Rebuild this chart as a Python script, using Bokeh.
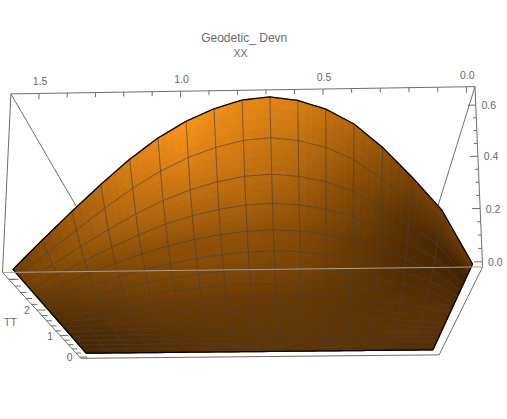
import numpy as np
from bokeh.plotting import figure
from bokeh.embed import file_html
from bokeh.resources import INLINE
from bokeh.core.properties import value

# ---- data ----
x_mesh = [0.0, 0.098, 0.196, 0.295, 0.393, 0.491, 0.589, 0.687, 0.785, 0.884, 0.982, 1.08, 1.178, 1.276, 1.374, 1.473, 1.571]
t_mesh = [0.0, 0.196, 0.393, 0.589, 0.785, 0.982, 1.178, 1.374, 1.571, 1.767, 1.963, 2.16, 2.356, 2.553, 2.749, 2.945, 3.142]
edge_height = [0.0, 0.206, 0.333, 0.45, 0.544, 0.605, 0.641, 0.657, 0.646, 0.613, 0.565, 0.50, 0.418, 0.322, 0.219, 0.111, 0.0]
height_ratio = [0.0, 0.0005, 0.002, 0.005, 0.014, 0.027, 0.048, 0.082, 0.122, 0.17, 0.23, 0.30, 0.39, 0.51, 0.64, 0.81, 1.0]

x_shade = [0.0, 0.2, 0.4, 0.6, 0.8, 1.0, 1.2, 1.4, 1.571]
t_shade = [0.0, 0.785, 1.571, 2.356, 2.749, 3.142]
shade = [
    [0.33, 0.36, 0.37, 0.38, 0.38, 0.37, 0.34, 0.30, 0.27],
    [0.36, 0.37, 0.38, 0.39, 0.39, 0.38, 0.36, 0.32, 0.30],
    [0.36, 0.36, 0.38, 0.41, 0.42, 0.43, 0.42, 0.38, 0.34],
    [0.30, 0.32, 0.42, 0.53, 0.58, 0.57, 0.54, 0.48, 0.42],
    [0.24, 0.34, 0.52, 0.68, 0.76, 0.77, 0.70, 0.58, 0.47],
    [0.42, 0.48, 0.70, 0.86, 0.92, 0.98, 0.85, 0.62, 0.44],
]

x_major = [0.0, 0.5, 1.0, 1.5]
x_minor = [0.1, 0.2, 0.3, 0.4, 0.6, 0.7, 0.8, 0.9, 1.1, 1.2, 1.3, 1.4]
t_major = [0, 1, 2, 3]
t_minor = [0.2, 0.4, 0.6, 0.8, 1.2, 1.4, 1.6, 1.8, 2.2, 2.4, 2.6, 2.8, 3.0]
z_major = [0.0, 0.2, 0.4, 0.6]
z_minor = [0.05, 0.1, 0.15, 0.25, 0.3, 0.35, 0.45, 0.5, 0.55]
title_text = "Geodetic_ Devn"
x_name = "XX"
t_name = "TT"

# ---- camera, calibrated on the eight corners of the plot box ----
X0, X1 = -0.03, 1.6
T0, T1 = -0.06, 3.2
Z0, Z1 = -0.019, 0.673
calib = [
    ((X1, T0, Z0), (80, 357)), ((X0, T0, Z0), (439, 354)),
    ((X1, T1, Z0), (2, 272)), ((X0, T1, Z0), (482, 268)),
    ((X1, T1, Z1), (11, 92)), ((X0, T1, Z1), (474, 86)),
    ((X1, T0, Z1), (84.5, 223)), ((X0, T0, Z1), (434, 216)),
]
rows = []
for (a, b, c), (u, v) in calib:
    rows.append([a, b, c, 1, 0, 0, 0, 0, -u*a, -u*b, -u*c, -u])
    rows.append([0, 0, 0, 0, a, b, c, 1, -v*a, -v*b, -v*c, -v])
P = np.linalg.svd(np.array(rows, float))[2][-1].reshape(3, 4)


def project(a, b, c):
    a, b, c = np.broadcast_arrays(np.asarray(a, float), np.asarray(b, float), np.asarray(c, float))
    h = P @ np.stack([a.ravel(), b.ravel(), c.ravel(), np.ones(a.size)])
    return (h[0]/h[2]).reshape(a.shape), (h[1]/h[2]).reshape(a.shape)


p = figure(width=507, height=419, x_range=(0, 507), y_range=(419, 0),
           output_backend="svg", toolbar_location=None, min_border=0,
           margin=(0, 0, 0, 0))
p.axis.visible = False
p.grid.visible = False
p.outline_line_color = None
p.background_fill_color = "white"
p.border_fill_color = "white"

BOX = "#6e6e6e"
TXT = "#6a6a6a"


def seg3(a, b, color=BOX, width=1.0):
    xs, ys = project([a[0], b[0]], [a[1], b[1]], [a[2], b[2]])
    p.line(xs, ys, line_color=color, line_width=width)


# box edges behind the surface
seg3((X1, T1, Z1), (X0, T1, Z1))
seg3((X1, T1, Z1), (X1, T1, Z0))
seg3((X0, T1, Z1), (X0, T1, Z0))
seg3((X1, T1, Z1), (X1, T0, Z1))
seg3((X0, T1, Z1), (X0, T0, Z1))
seg3((X1, T1, Z0), (X1, T0, Z0))
seg3((X1, T0, Z0), (X0, T0, Z0))
seg3((X0, T0, Z0), (X0, T1, Z0))

# ticks
for v, d in [(v, 0.024) for v in x_major] + [(v, 0.018) for v in x_minor]:
    seg3((v, T1, Z1), (v, T1, Z1 - d))
for v, d in [(v, 0.028) for v in z_major] + [(v, 0.012) for v in z_minor]:
    seg3((X0, T1, v), (X0 + d, T1, v))
for v, d in [(v, 0.034) for v in t_major] + [(v, 0.022) for v in t_minor]:
    seg3((X1, v, Z0), (X1 - d, v, Z0))

# surface
SUB = 4
xm, tm = np.array(x_mesh), np.array(t_mesh)
xf = np.interp(np.arange(0, (len(xm)-1)*SUB+1)/SUB, np.arange(len(xm)), xm)
tf = np.interp(np.arange(0, (len(tm)-1)*SUB+1)/SUB, np.arange(len(tm)), tm)
ef = np.interp(xf, xm, edge_height)
rf = np.interp(tf, tm, height_ratio)
Zf = np.outer(rf, ef)
XX, TT = np.meshgrid(xf, tf)
SX, SY = project(XX, TT, Zf)

sh = np.array(shade)
px, py, cols = [], [], []
for j in range(len(tf)-1):
    tc = 0.5*(tf[j]+tf[j+1])
    col = np.array([np.interp(tc, t_shade, sh[:, k]) for k in range(sh.shape[1])])
    for i in range(len(xf)-1):
        b = float(np.interp(0.5*(xf[i]+xf[i+1]), x_shade, col))
        cols.append("#%02x%02x%02x" % (int(255*b), int(152*b**1.08), int(30*b**2)))
        px.append([SX[j, i], SX[j, i+1], SX[j+1, i+1], SX[j+1, i]])
        py.append([SY[j, i], SY[j, i+1], SY[j+1, i+1], SY[j+1, i]])
p.patches(px, py, fill_color=cols, line_color=cols, line_width=1.2)

# mesh
MESH = "#45403a"
mx = [list(SX[j*SUB, :]) for j in range(1, len(tm)-1)] + [list(SX[:, i*SUB]) for i in range(1, len(xm)-1)]
my = [list(SY[j*SUB, :]) for j in range(1, len(tm)-1)] + [list(SY[:, i*SUB]) for i in range(1, len(xm)-1)]
p.multi_line(mx, my, line_color=MESH, line_width=1.0, line_alpha=0.65)

# boundary of the surface
bx = np.concatenate([SX[0, :], SX[:, -1], SX[-1, ::-1], SX[::-1, 0]])
by = np.concatenate([SY[0, :], SY[:, -1], SY[-1, ::-1], SY[::-1, 0]])
p.line(bx, by, line_color="#0a0500", line_width=1.3)

# box edge in front of the surface
seg3((X1, T1, Z0), (X0, T1, Z0), color="#a89f94", width=1.0)

# texts
font = value("Liberation Sans")


def label(xs, ys, texts, size):
    p.text(xs, ys, text=texts, text_font=font, text_font_size=size, text_color=TXT,
           text_align="center", text_baseline="middle")


u, v = project(x_major, T1, Z1)
label(u + 1, v - 12, ["%.1f" % a for a in x_major], "10.5px")
u, v = project(X0, T1, z_major)
label(u + 13, v, ["%.1f" % a for a in z_major], "10.5px")
u, v = project(X1, t_major[:3], Z0)
label(u - 10, v, ["%d" % a for a in t_major[:3]], "10.5px")
label([243.7], [37], [title_text], "12px")
label([240], [52], [x_name], "10.5px")
label([10], [321], [t_name], "10.5px")

open("out.html", "w").write(file_html(p, INLINE))
